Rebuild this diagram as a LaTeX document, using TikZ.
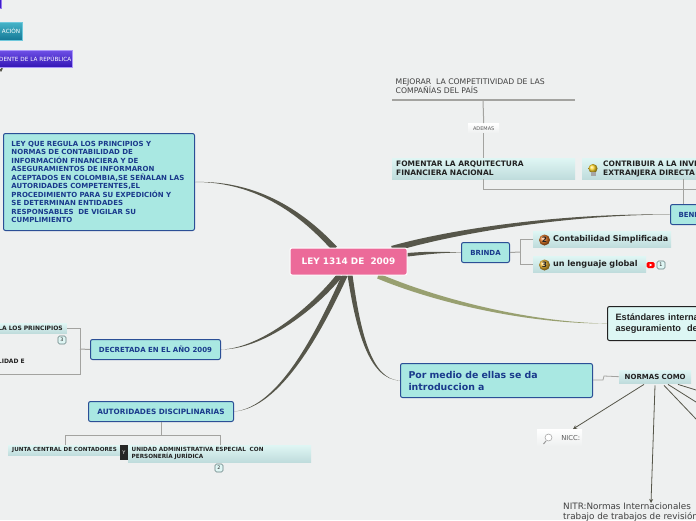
\documentclass[tikz,border=0pt]{standalone}
\usepackage{fontspec}
\setmainfont{DejaVu Sans}
\newfontfamily\arialf{Liberation Sans}
\usetikzlibrary{calc,arrows.meta,backgrounds}
\definecolor{bgc}{HTML}{EEF0F0}
\definecolor{topicfill}{HTML}{A9E8E2}
\definecolor{topicline}{HTML}{2B4F96}
\definecolor{topictext}{HTML}{1A3A8C}
\definecolor{branchc}{HTML}{56564A}
\definecolor{olivec}{HTML}{98A070}
\definecolor{linec}{HTML}{A3A3A0}
\definecolor{subtop}{HTML}{DFF6F4}
\definecolor{subbot}{HTML}{BFDCDC}
\definecolor{txtd}{HTML}{222222}
\tikzset{
  x=1pt,y=-1pt,
  topic/.style={draw=topicline,line width=1pt,fill=topicfill,rounded corners=2pt,
    text=topictext,font=\bfseries\fontsize{7}{8.5}\selectfont,anchor=north west,
    inner sep=0pt,align=center},
  leftbox/.style={topic,align=left},
  subt/.style={top color=subtop,bottom color=subbot,draw=none,anchor=north west,inner sep=0pt,
    text=txtd,font=\bfseries\fontsize{5.6}{7.2}\selectfont,align=left},
  conn/.style={draw=linec,line width=1pt},
  arrowline/.style={draw=branchc,line width=.8pt,-{Stealth[length=4pt,width=4pt]}},
  notebadge/.style={draw=gray!80!teal,fill=subtop,rounded corners=1.5pt,line width=.6pt,
    minimum width=8pt,minimum height=8pt,inner sep=0pt,text=txtd,font=\fontsize{4.8}{5}\selectfont},
  numbadge/.style={circle,minimum size=11pt,inner sep=0pt,text=txtd,font=\bfseries\fontsize{7.5}{8}\selectfont},
  whitebox/.style={top color=white,bottom color=bgc,anchor=north west,inner sep=0pt,text=black!65,
    font=\fontsize{5}{6}\selectfont},
}
\newcommand{\taper}[7]{%
  \fill[#1] ($(#2)+(#6,#7)$) .. controls ($(#4)+0.85*(#6,#7)$) and ($(#5)+0.35*(#6,#7)$) .. (#3)
   .. controls ($(#5)-0.35*(#6,#7)$) and ($(#4)-0.85*(#6,#7)$) .. ($(#2)-(#6,#7)$) -- cycle;}
\begin{document}
\begin{tikzpicture}
\useasboundingbox (0,0) rectangle (696,520);
\clip (0,0) rectangle (696,520);

% central
\node[draw=white,line width=1pt,fill={rgb,255:red,236;green,106;blue,153},rounded corners=2pt,
  minimum width=117pt,minimum height=27pt,inner sep=0pt,text=white,
  font=\bfseries\fontsize{8.9}{10}\selectfont] (c) at (348.5,261.5) {LEY 1314 DE\ \ 2009};

% main topics
\node[leftbox,minimum width=191pt,minimum height=97pt,text width=175pt,inner xsep=8pt] (ley) at (3,133)
 {LEY QUE REGULA LOS PRINCIPIOS Y\\NORMAS DE CONTABILIDAD DE\\INFORMACIÓN FINANCIERA Y DE\\ASEGURAMIENTOS DE INFORMARON\\ACEPTADOS EN COLOMBIA,SE SEÑALAN LAS\\AUTORIDADES COMPETENTES,EL\\PROCEDIMIENTO PARA SU EXPEDICIÓN Y\\SE DETERMINAN ENTIDADES\\RESPONSABLES\ \ DE VIGILAR SU\\CUMPLIMIENTO};
\node[topic,minimum width=48pt,minimum height=20pt,font=\bfseries\fontsize{7}{8}\selectfont] (brinda) at (461,242) {BRINDA};
\node[topic,minimum width=60pt,minimum height=20pt,align=left,text width=52pt,inner xsep=4pt,font=\bfseries\fontsize{7}{8}\selectfont] (ben) at (670,204) {\hspace*{4pt}BENEFICIOS};
\node[topic,minimum width=130pt,minimum height=20pt,font=\bfseries\fontsize{7}{9}\selectfont] (dec) at (90,339) {DECRETADA EN EL AÑO 2009};
\node[topic,minimum width=145pt,minimum height=20pt,font=\bfseries\fontsize{7.3}{9}\selectfont] (aut) at (88,401) {AUTORIDADES DISCIPLINARIAS};
\node[draw=txtd,line width=1pt,fill={rgb,255:red,221;green,247;blue,244},rounded corners=2pt,anchor=north west,
  minimum width=110pt,minimum height=34pt,text width=130pt,inner xsep=8pt,inner ysep=0pt,align=left,
  text=txtd,font=\arialf\bfseries\fontsize{9.2}{11.5}\selectfont] (est) at (607,306)
  {Estándares internacionales\\aseguramiento\ \ de};
\node[leftbox,minimum width=192pt,minimum height=34pt,text width=176pt,inner xsep=8pt,
  font=\bfseries\fontsize{9.4}{12}\selectfont] (pm) at (400,363) {Por medio de ellas se da\\introduccion a};

% sub topics right
\node[subt,minimum width=138pt,minimum height=16pt,text width=138pt,
  font=\bfseries\fontsize{8}{9}\selectfont] (cs) at (533,231) {\hspace*{20pt}Contabilidad Simplificada};
\node[subt,minimum width=113pt,minimum height=16pt,text width=113pt,
  font=\bfseries\fontsize{8.1}{9}\selectfont] (ul) at (533,256) {\hspace*{20pt}un lenguaje global};
\node[numbadge,ball color={rgb,255:red,236;green,124;blue,38}] (n2) at (544.5,240) {2};
\node[numbadge,ball color={rgb,255:red,250;green,190;blue,50}] (n3) at (544.5,265) {3};
\node[fill=red,rounded corners=1.5pt,minimum width=8pt,minimum height=6pt,inner sep=0pt] (yt) at (650.5,265) {};
\fill[white] (649.5,263.5) -- (652.3,265) -- (649.5,266.5) -- cycle;
\node[notebadge] (n1) at (661,265) {1};

% top right
\node[anchor=north west,inner sep=0pt,text=black!75,align=left,font=\fontsize{7.7}{8.8}\selectfont] (mej) at (395.5,79)
 {MEJORAR\ \ LA COMPETITIVIDAD DE LAS\\COMPAÑÍAS DEL PAÍS};
\coordinate (ml) at (392,100);
\coordinate (mr) at (575,100);
\coordinate (mm) at (483,100);
\node[subt,minimum width=183pt,minimum height=21pt,text width=175pt,inner xsep=4pt,
  font=\bfseries\fontsize{7.5}{9}\selectfont] (fom) at (392,158) {FOMENTAR LA ARQUITECTURA\\FINANCIERA NACIONAL};
\node[subt,minimum width=140pt,minimum height=21pt,text width=200pt,inner xsep=21pt,
  font=\bfseries\fontsize{7.5}{9}\selectfont] (con) at (582,158) {CONTRIBUIR A LA INVERSIÓN\\EXTRANJERA DIRECTA};
\node[circle,ball color={rgb,255:red,255;green,215;blue,40},minimum size=9pt,inner sep=0pt] (bulb) at (593,168.5) {};
\fill[black!35] (590.5,172) rectangle (595.5,175.5);
\node[whitebox,minimum width=31pt,minimum height=10pt] (ad) at (468,123) {ADEMAS};
\draw[conn,line width=1.2pt] (ml) -- (mr);
\draw[conn] (mm) -- (ad.north);
\draw[conn] (ad.south) -- (fom.north-|ad.south);
\coordinate (b1) at (483,189);
\coordinate (b2) at (683,189);
\coordinate (b3) at (683,179);
\draw[conn] (fom.south-|b1) -- (b1) -- (b2) -- (b3);
\draw[conn] (b2) -- (ben.north-|b2);
\coordinate (b4) at (696,189);
\draw[conn] (b2) -- (b4);

% brinda links
\coordinate (bj) at (520,252);
\draw[conn] (brinda.east) -- (bj);
\draw[conn] (cs.west) -| (bj);
\draw[conn] (ul.west) -| (bj);

% top-left clipped
\node[draw={rgb,255:red,150;green,120;blue,240},fill={rgb,255:red,60;green,30;blue,200},anchor=north east,
  minimum width=12pt,minimum height=10pt,inner sep=0pt,line width=.6pt] (tl1) at (2,-2) {};
\node[draw={rgb,255:red,110;green,200;blue,220},top color={rgb,255:red,70;green,180;blue,200},bottom color={rgb,255:red,20;green,120;blue,150},
  anchor=north east,minimum width=60pt,minimum height=18pt,inner sep=0pt,line width=.6pt,text=white,align=right,text width=55pt,inner xsep=2.5pt,
  font=\fontsize{5.7}{6}\selectfont] (tl2) at (23,22) {ACIÓN};
\node[draw={rgb,255:red,170;green,150;blue,250},top color={rgb,255:red,110;green,80;blue,230},bottom color={rgb,255:red,50;green,20;blue,180},
  anchor=north east,minimum width=120pt,minimum height=17pt,inner sep=0pt,line width=.6pt,text=white,align=right,text width=117pt,inner xsep=1.5pt,
  font=\fontsize{5.7}{6}\selectfont] (tl3) at (73,50) {PRESIDENTE DE LA REPÚBLICA};
\coordinate (tl4) at (1,72);
\draw[arrowline] (tl3.south-|tl4) -- (tl4);

% decretada children
\node[subt,anchor=north east,minimum width=100pt,minimum height=10pt,text width=92pt,inner xsep=4pt,align=right,
  font=\bfseries\fontsize{6}{6}\selectfont] (dp) at (67,323) {REGULA LOS PRINCIPIOS};
\node[notebadge] (n3b) at (62,340) {3};
\node[anchor=north east,inner sep=0pt,text=txtd,font=\bfseries\fontsize{6}{6}\selectfont] (dq) at (25,358.5) {CONTABILIDAD E};
\coordinate (dj) at (80,349);
\coordinate (dk) at (80,374);
\coordinate (dl) at (0,374);
\draw[conn] (dec.west) -- (dj);
\draw[conn] (dp.east) -| (dk);
\draw[conn] (dj) -- (dk) -- (dl);

% autoridades children
\node[subt,minimum width=112pt,minimum height=10pt,text width=108pt,inner xsep=2pt,
  font=\bfseries\fontsize{5.6}{6}\selectfont] (jc) at (8,445) {\hspace*{2pt}JUNTA CENTRAL DE CONTADORES};
\node[subt,minimum width=183pt,minimum height=17pt,text width=176pt,inner xsep=3.5pt,
  font=\bfseries\fontsize{5.7}{7}\selectfont] (ua) at (128,445) {UNIDAD ADMINISTRATIVA ESPECIAL\ \ CON\\PERSONERÍA JURÍDICA};
\node[fill=black!85,minimum width=8pt,minimum height=15pt,inner sep=0pt,text=white,font=\fontsize{5}{6}\selectfont] (y) at (124,452.5) {Y};
\node[notebadge] (n2b) at (219,468) {2};
\coordinate (aj) at (161,435);
\coordinate (al) at (65,435);
\coordinate (ar) at (220,435);
\draw[conn] (aut.south-|aj) -- (aj);
\draw[conn] (jc.north-|al) -- (al) -- (ar) -- (ua.north-|ar);

% normas
\node[subt,minimum width=72pt,minimum height=13pt,align=center,text width=72pt,font=\bfseries\fontsize{7}{8}\selectfont] (nc) at (619,370) {NORMAS COMO};
\draw[conn,line width=.8pt] (pm.east) ++(0,-.5) -- ++(10,0) -- ++(1,-4) -- (nc.west);
\node[whitebox,minimum width=45pt,minimum height=17pt,text width=41pt,inner xsep=2pt,
  font=\fontsize{6.8}{7}\selectfont,align=right] (nicc) at (537,429) {NICC:};
\draw[black!40,line width=1pt] (546,441) -- (543.5,444);
\draw[gray!70,fill=white,line width=.6pt] (548.5,437.5) circle (3.5);
\node[anchor=north west,inner sep=0pt,text=black!75,align=left,font=\fontsize{8.8}{10}\selectfont] (nitr) at (563,503)
 {NITR:Normas Internacionales\\trabajo de trabajos de revisión};
\coordinate (nr1) at (696,390);
\coordinate (nr2) at (696,402);
\coordinate (nr3) at (696,419);
\draw[arrowline] (nc.south-|644,0) ++(0,1) -- (nicc.north-|573,0);
\draw[arrowline] (nc.south-|655,0) ++(0,2) -- (nitr.north-|651,0);
\draw[draw=branchc,line width=.8pt] (nc.south-|678,0) ++(0,1) -- (nr1);
\draw[draw=branchc,line width=.8pt] (nc.south-|668,0) ++(0,1) -- (nr2);
\draw[draw=branchc,line width=.8pt] (nc.south-|664,0) ++(0,2) -- (nr3);

% branches
\begin{scope}[on background layer]
\fill[bgc] (0,0) rectangle (696,520);
\coordinate (s1) at (335,249);
\coordinate (s2) at (392,249);
\coordinate (s3) at (405,255);
\coordinate (s4) at (378,276);
\coordinate (s5) at (350,275);
\coordinate (s6) at (340,275);
\coordinate (s7) at (345,275);
\taper{branchc}{s1}{ley.east}{310,222}{265,181}{1.8}{-2.5}
\taper{branchc}{s2}{ben.west}{450,232}{560,214}{0.8}{3}
\taper{branchc}{s3}{brinda.west}{425,253}{440,252}{0}{1.8}
\taper{olivec}{s4}{est.west}{440,302}{530,323}{0.8}{-2.5}
\taper{branchc}{s5}{pm.west}{358,330}{370,380}{2.5}{0}
\taper{branchc}{s6}{dec.east}{310,312}{260,349}{2.3}{1.8}
\taper{branchc}{s7}{aut.east}{320,330}{280,408}{2.6}{1}
\end{scope}
\end{tikzpicture}
\end{document}
